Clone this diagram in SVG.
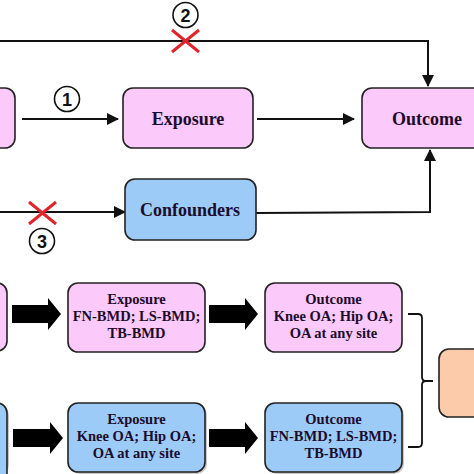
<svg xmlns="http://www.w3.org/2000/svg" width="474" height="474" viewBox="0 0 474 474">
<defs>
<marker id="ah" markerWidth="12" markerHeight="12" refX="11" refY="6" orient="auto" markerUnits="userSpaceOnUse">
<path d="M0,0 L12,6 L0,12 z" fill="#111"/>
</marker>
<style>
.pink{fill:#fcc9fb;stroke:#222;stroke-width:1.6}
.blue{fill:#9ccbf7;stroke:#222;stroke-width:1.6}
.peach{fill:#fbcbaa;stroke:#222;stroke-width:1.6}
.big{font-family:"Liberation Serif",serif;font-weight:bold;font-size:18px;fill:#1c0c2c;text-anchor:middle}
.sm{font-family:"Liberation Serif",serif;font-weight:bold;font-size:14.5px;fill:#1c0c2c;text-anchor:middle}
.ln{fill:none;stroke:#111;stroke-width:2}
.x{stroke:#e0242a;stroke-width:3;fill:none}
.circ{fill:#fff;stroke:#111;stroke-width:1.6}
.num{font-family:"Liberation Sans",sans-serif;font-weight:bold;font-size:18px;fill:#111;text-anchor:middle}
.blk{fill:#000}
.shadow{fill:#c8c8c8}
</style>
</defs>

<g id="connectors">
<path class="ln" d="M0,41 H428 V86" marker-end="url(#ah)"/>
<path class="ln" d="M22,119 H118" marker-end="url(#ah)"/>
<path class="ln" d="M257,119 H354" marker-end="url(#ah)"/>
<path class="ln" d="M0,212 H125" marker-end="url(#ah)"/>
<path class="ln" d="M256,213 L430,212 V150" marker-end="url(#ah)"/>
<path class="x" d="M172,30 L199,52 M199,30 L172,52"/>
<path class="x" d="M29,202 L56,224 M56,202 L29,224"/>
<circle class="circ" cx="67" cy="99" r="12.5"/>
<text class="num" x="67" y="105.5">1</text>
<circle class="circ" cx="185.5" cy="15" r="12.5"/>
<text class="num" x="185.5" y="21.5">2</text>
<circle class="circ" cx="42" cy="241" r="12.5"/>
<text class="num" x="42" y="247.5">3</text>
<path class="blk" d="M12,305 H48 V298 L61,314 L48,330 V323 H12 z"/>
<path class="blk" d="M209,305 H245 V298 L258,314 L245,330 V323 H209 z"/>
<path class="blk" d="M13,429 H50 V422 L63,438 L50,454 V447 H13 z"/>
<path class="blk" d="M209,429 H245 V422 L258,438 L245,454 V447 H209 z"/>
<path class="ln" style="stroke-width:1.8" d="M408,314 H418 Q422,314 422,318 V377 Q422,381 426,381 H433 M426,381 Q422,381 422,385 V443 Q422,447 418,447 H408"/>
</g>

<g id="left-top"><rect class="pink" x="-60" y="88" width="75" height="60" rx="10"/></g>
<g id="exposure"><rect class="pink" x="123" y="88" width="130" height="60" rx="10"/><text class="big" x="188" y="125">Exposure</text></g>
<g id="outcome"><rect class="pink" x="362" y="88" width="130" height="60" rx="10"/><text class="big" x="427" y="125">Outcome</text></g>
<g id="confounders"><rect class="blue" x="125" y="179" width="131" height="61" rx="10"/><text class="big" x="190" y="216">Confounders</text></g>

<g id="left-pink2"><rect class="pink" x="-60" y="283" width="67" height="68" rx="10"/></g>
<g id="exposure2"><rect class="pink" x="68" y="283" width="137" height="69" rx="10"/>
<text class="sm" x="136.5" y="304">Exposure</text><text class="sm" x="136.5" y="321">FN-BMD; LS-BMD;</text><text class="sm" x="136.5" y="338">TB-BMD</text></g>
<g id="outcome2"><rect class="pink" x="265" y="283" width="137" height="69" rx="10"/>
<text class="sm" x="333.5" y="304">Outcome</text><text class="sm" x="333.5" y="321">Knee OA; Hip OA;</text><text class="sm" x="333.5" y="338">OA at any site</text></g>

<g id="peach"><rect class="peach" x="439" y="349" width="80" height="68" rx="10"/></g>

<g id="left-blue"><rect class="shadow" x="-58" y="405" width="67" height="70" rx="10"/><rect class="blue" x="-60" y="403" width="67" height="80" rx="10"/></g>
<g id="exposure3"><rect class="shadow" x="70" y="405" width="137" height="69" rx="10"/><rect class="blue" x="68" y="403" width="137" height="69" rx="10"/>
<text class="sm" x="136.5" y="424">Exposure</text><text class="sm" x="136.5" y="441">Knee OA; Hip OA;</text><text class="sm" x="136.5" y="458">OA at any site</text></g>
<g id="outcome3"><rect class="shadow" x="267" y="405" width="137" height="69" rx="10"/><rect class="blue" x="265" y="403" width="137" height="69" rx="10"/>
<text class="sm" x="333.5" y="424">Outcome</text><text class="sm" x="333.5" y="441">FN-BMD; LS-BMD;</text><text class="sm" x="333.5" y="458">TB-BMD</text></g>
</svg>
